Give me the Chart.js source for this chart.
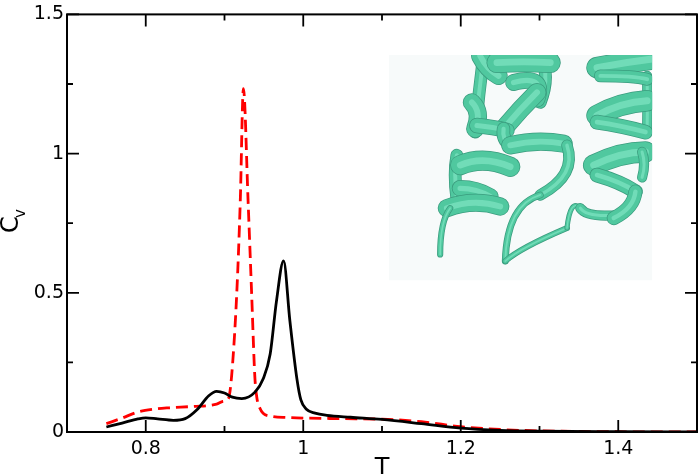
<!DOCTYPE html>
<html>
<head>
<meta charset="utf-8">
<script src="https://cdn.jsdelivr.net/npm/chart.js@4"></script>
<style>
  html, body { margin: 0; padding: 0; background: #fff; }
  #wrap { width: 700px; height: 474px; }
</style>
</head>
<body>
<div id="wrap"><canvas id="cvChart"></canvas></div>
<script>
// black solid curve
const tBlack  = [0.75, 0.77, 0.79, 0.80, 0.815, 0.835, 0.85, 0.865, 0.88, 0.89, 0.90, 0.91, 0.922, 0.939, 0.949, 0.958, 0.966, 0.975, 0.983, 0.992, 0.997, 1.004, 1.015, 1.03, 1.06, 1.10, 1.15, 1.20, 1.25, 1.30, 1.40, 1.50];
const cvBlack = [0.018, 0.032, 0.047, 0.051, 0.047, 0.042, 0.048, 0.080, 0.130, 0.146, 0.140, 0.125, 0.120, 0.144, 0.190, 0.280, 0.470, 0.615, 0.400, 0.190, 0.115, 0.082, 0.068, 0.060, 0.053, 0.045, 0.030, 0.014, 0.006, 0.003, 0.001, 0.000];

// red dashed curve
const tRed  = [0.75, 0.77, 0.79, 0.81, 0.83, 0.86, 0.89, 0.898, 0.905, 0.909, 0.9155, 0.92, 0.924, 0.930, 0.9345, 0.9385, 0.941, 0.945, 0.949, 0.96, 0.98, 1.00, 1.05, 1.10, 1.15, 1.20, 1.25, 1.30, 1.40, 1.50];
const cvRed = [0.030, 0.050, 0.072, 0.082, 0.087, 0.092, 0.100, 0.110, 0.120, 0.200, 0.494, 0.826, 1.233, 0.826, 0.494, 0.200, 0.125, 0.085, 0.067, 0.056, 0.052, 0.050, 0.048, 0.046, 0.037, 0.019, 0.009, 0.004, 0.001, 0.000];

const xMajor = [0.8, 1, 1.2, 1.4];
const xMinor = [0.9, 1.1, 1.3];
const yMajor = [0, 0.5, 1, 1.5];
const yMinor = [0.25, 0.75, 1.25];

// inset picture (protein ribbon), box given in axis units
const insetT = [1.109, 1.443];
const insetCv = [0.545, 1.354];
// bands: from, control, to, width — in picture units (box is 788 x 681)
const ribbonBands = [
  [[283, 3], [268, 120], [258, 233], 34],
  [[463, 23], [478, 80], [453, 143], 34],
  [[203, 303], [193, 360], [203, 433], 34],
  [[273, 3], [293, 43], [328, 63], 50],
  [[323, 23], [403, 18], [483, 23], 58],
  [[373, 83], [468, 58], [443, 133], 46],
  [[248, 143], [278, 173], [258, 223], 50],
  [[443, 113], [393, 163], [343, 223], 52],
  [[263, 213], [313, 218], [353, 228], 42],
  [[343, 223], [338, 255], [363, 273], 36],
  [[363, 273], [443, 253], [523, 268], 50],
  [[213, 333], [283, 303], [363, 338], 56],
  [[213, 403], [263, 403], [303, 428], 46],
  [[173, 463], [253, 433], [333, 458], 50],
  [[183, 463], [153, 503], [153, 603], 14],
  [[533, 273], [563, 363], [453, 423], 30],
  [[453, 423], [353, 453], [348, 623], 16],
  [[348, 623], [393, 583], [533, 523], 13],
  [[533, 523], [543, 433], [573, 463], 11],
  [[573, 463], [593, 493], [693, 483], 26],
  [[773, 63], [775, 150], [773, 233], 26],
  [[623, 38], [703, 23], [783, 13], 60],
  [[633, 63], [733, 63], [773, 73], 34],
  [[623, 183], [693, 143], [773, 138], 60],
  [[623, 203], [693, 213], [768, 233], 40],
  [[613, 333], [693, 293], [768, 293], 60],
  [[758, 293], [770, 330], [758, 370], 26],
  [[623, 363], [693, 383], [738, 413], 40],
  [[738, 413], [733, 463], [673, 493], 38]
];

const insetPlugin = {
  id: 'inset',
  beforeDatasetsDraw(chart) {
    const { ctx, scales: { x, y } } = chart;
    const L = x.getPixelForValue(insetT[0]), R = x.getPixelForValue(insetT[1]);
    const T = y.getPixelForValue(insetCv[1]), B = y.getPixelForValue(insetCv[0]);
    const sx = (R - L) / 788, sy = (B - T) / 681;
    const P = (p) => [L + p[0] * sx, T + p[1] * sy];
    ctx.save();
    ctx.fillStyle = '#f7fafa';
    ctx.fillRect(L, T, R - L, B - T);
    ctx.beginPath();
    ctx.rect(L, T, R - L, B - T);
    ctx.clip();
    ctx.lineCap = 'round';
    ribbonBands.forEach(([a, c, b, w]) => {
      const pa = P(a), pc = P(c), pb = P(b);
      const lw = w * sx;
      const path = () => {
        ctx.beginPath();
        ctx.moveTo(pa[0], pa[1]);
        ctx.quadraticCurveTo(pc[0], pc[1], pb[0], pb[1]);
      };
      path();
      ctx.strokeStyle = '#3a9c7e';
      ctx.lineWidth = lw + 1.5;
      ctx.stroke();
      path();
      ctx.strokeStyle = '#50c89f';
      ctx.lineWidth = lw;
      ctx.stroke();
      path();
      ctx.strokeStyle = 'rgba(140,236,204,0.55)';
      ctx.lineWidth = lw * 0.35;
      ctx.stroke();
    });
    ctx.restore();
  }
};

const framePlugin = {
  id: 'frame',
  afterDraw(chart) {
    const ctx = chart.ctx;
    const a = chart.chartArea;
    const xs = chart.scales.x, ys = chart.scales.y;
    ctx.save();
    ctx.setLineDash([]);
    ctx.strokeStyle = '#000';
    ctx.lineWidth = 1.8;
    for (const [vals, len] of [[xMajor, 12], [xMinor, 6]]) {
      for (const v of vals) {
        const px = xs.getPixelForValue(v);
        ctx.beginPath();
        ctx.moveTo(px, a.bottom); ctx.lineTo(px, a.bottom - len);
        ctx.moveTo(px, a.top); ctx.lineTo(px, a.top + len);
        ctx.stroke();
      }
    }
    for (const [vals, len] of [[yMajor, 12], [yMinor, 6]]) {
      for (const v of vals) {
        const py = ys.getPixelForValue(v);
        ctx.beginPath();
        ctx.moveTo(a.left, py); ctx.lineTo(a.left + len, py);
        ctx.moveTo(a.right, py); ctx.lineTo(a.right - len, py);
        ctx.stroke();
      }
    }
    ctx.lineWidth = 2;
    ctx.strokeRect(a.left, a.top, a.right - a.left, a.bottom - a.top);

    // axis titles
    ctx.fillStyle = '#000';
    ctx.textBaseline = 'alphabetic';
    ctx.font = '24px "DejaVu Sans"';
    ctx.textAlign = 'center';
    ctx.fillText('T', (a.left + a.right) / 2, 475);
    ctx.translate(18, 233);
    ctx.rotate(-Math.PI / 2);
    ctx.textAlign = 'left';
    ctx.fillText('C', 0, 0);
    ctx.font = '15px "DejaVu Sans"';
    ctx.fillText('v', 15, 7);
    ctx.restore();
  }
};

const tickFont = { family: 'DejaVu Sans', size: 19 };

new Chart(document.getElementById('cvChart'), {
  type: 'line',
  data: {
    datasets: [
      {
        data: tBlack.map((t, i) => ({ x: t, y: cvBlack[i] })),
        borderColor: '#000',
        borderWidth: 2.8,
        pointRadius: 0,
        cubicInterpolationMode: 'monotone'
      },
      {
        data: tRed.map((t, i) => ({ x: t, y: cvRed[i] })),
        borderColor: '#ff0000',
        borderWidth: 2.8,
        borderDash: [12, 6],
        pointRadius: 0,
        cubicInterpolationMode: 'monotone'
      }
    ]
  },
  options: {
    responsive: true,
    maintainAspectRatio: false,
    animation: false,
    layout: { padding: { top: 11, right: 3, left: 0, bottom: 0 } },
    plugins: { legend: { display: false }, tooltip: { enabled: false } },
    scales: {
      x: {
        type: 'linear',
        min: 0.7,
        max: 1.5,
        afterBuildTicks: s => { s.ticks = xMajor.map(v => ({ value: v })); },
        afterFit: s => { s.height = 42; },
        grid: { display: false, drawTicks: false },
        border: { display: false },
        ticks: { color: '#000', font: tickFont, padding: 6, maxRotation: 0, autoSkip: false, callback: v => String(v) }
      },
      y: {
        min: 0,
        max: 1.5,
        afterBuildTicks: s => { s.ticks = yMajor.map(v => ({ value: v })); },
        afterFit: s => { s.width = 67; },
        grid: { display: false, drawTicks: false },
        border: { display: false },
        ticks: { color: '#000', font: tickFont, padding: 3, autoSkip: false, callback: v => String(v) }
      }
    }
  },
  plugins: [insetPlugin, framePlugin]
});
</script>
</body>
</html>
